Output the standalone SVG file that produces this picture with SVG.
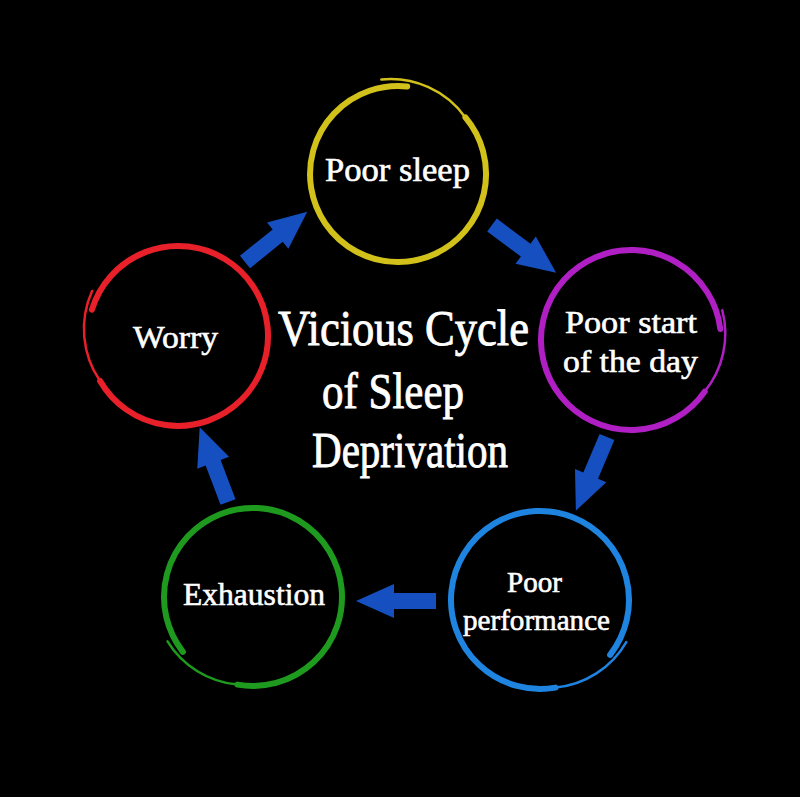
<svg xmlns="http://www.w3.org/2000/svg" xmlns:xlink="http://www.w3.org/1999/xlink" width="800" height="797" viewBox="0 0 800 797">
<style>
.lbl{font-family:"Liberation Serif","Times New Roman",serif;fill:#ffffff;stroke:#ffffff;stroke-width:0.6;}
.ttl{stroke-width:0.9;}
.ring{fill:none;stroke-width:6;stroke-linecap:round;}
.tail{fill:none;stroke-width:2.5;stroke-linecap:round;}
.arrow{fill:#1650c0;}
</style>
<defs>
<polygon id="arr" points="0,-8 42,-8 42,-17 80,0 42,17 42,8 0,8"/>
</defs>
<rect x="0" y="0" width="800" height="797" fill="#000000"/>
<g id="connectors" class="arrow">
<use xlink:href="#arr" transform="translate(245,262) rotate(-38.9)"/>
<use xlink:href="#arr" transform="translate(492,225) rotate(36.7)"/>
<use xlink:href="#arr" transform="translate(607,437) rotate(112.9)"/>
<use xlink:href="#arr" transform="translate(436,601) rotate(180)"/>
<use xlink:href="#arr" transform="translate(228,502) rotate(-110.7)"/>
</g>
<g id="node-poor-sleep">
<path class="ring" stroke="#d1c11a" d="M 465.4 117.4 A 88 88 0 1 1 407.2 86.5"/>
<path class="tail" stroke="#d1c11a" d="M 465.4 117.4 A 92 92 0 0 0 381.3 79.5"/>
<text class="lbl" x="325" y="181" font-size="33" textLength="145" lengthAdjust="spacingAndGlyphs">Poor sleep</text>
</g>
<g id="node-poor-start">
<path class="ring" stroke="#b01fc4" d="M 704.7 391.6 A 90 90 0 1 1 720.3 329"/>
<path class="tail" stroke="#b01fc4" d="M 704.7 391.6 A 92 92 0 0 0 722.3 310.3"/>
<text class="lbl" x="565" y="333" font-size="31" textLength="132" lengthAdjust="spacingAndGlyphs">Poor start</text>
<text class="lbl" x="563" y="372" font-size="31" textLength="135" lengthAdjust="spacingAndGlyphs">of the day</text>
</g>
<g id="node-poor-performance">
<path class="ring" stroke="#1e84e0" d="M 555.5 687.6 A 89 89 0 1 1 610.1 654.8"/>
<path class="tail" stroke="#1e84e0" d="M 555.5 687.6 A 92 92 0 0 0 626.3 642.1"/>
<text class="lbl" x="507" y="592" font-size="29" textLength="55" lengthAdjust="spacingAndGlyphs">Poor</text>
<text class="lbl" x="463" y="630" font-size="29" textLength="147" lengthAdjust="spacingAndGlyphs">performance</text>
</g>
<g id="node-exhaustion">
<path class="ring" stroke="#1e9a1e" d="M 182.9 651.8 A 89 89 0 1 1 237.5 684.6"/>
<path class="tail" stroke="#1e9a1e" d="M 237.5 684.6 A 92 92 0 0 1 167.5 641.3"/>
<text class="lbl" x="183" y="605" font-size="32" textLength="142" lengthAdjust="spacingAndGlyphs">Exhaustion</text>
</g>
<g id="node-worry">
<path class="ring" stroke="#e8202a" d="M 91.9 309.7 A 90 90 0 1 1 100.1 381"/>
<path class="tail" stroke="#e8202a" d="M 100.1 381 A 92 92 0 0 1 92.1 291"/>
<text class="lbl" x="133" y="348" font-size="32" textLength="85" lengthAdjust="spacingAndGlyphs">Worry</text>
</g>
<g id="title">
<text class="lbl ttl" x="278" y="345" font-size="51" textLength="251" lengthAdjust="spacingAndGlyphs">Vicious Cycle</text>
<text class="lbl ttl" x="322" y="408" font-size="51" textLength="142" lengthAdjust="spacingAndGlyphs">of Sleep</text>
<text class="lbl ttl" x="312" y="467" font-size="51" textLength="196" lengthAdjust="spacingAndGlyphs">Deprivation</text>
</g>
</svg>
